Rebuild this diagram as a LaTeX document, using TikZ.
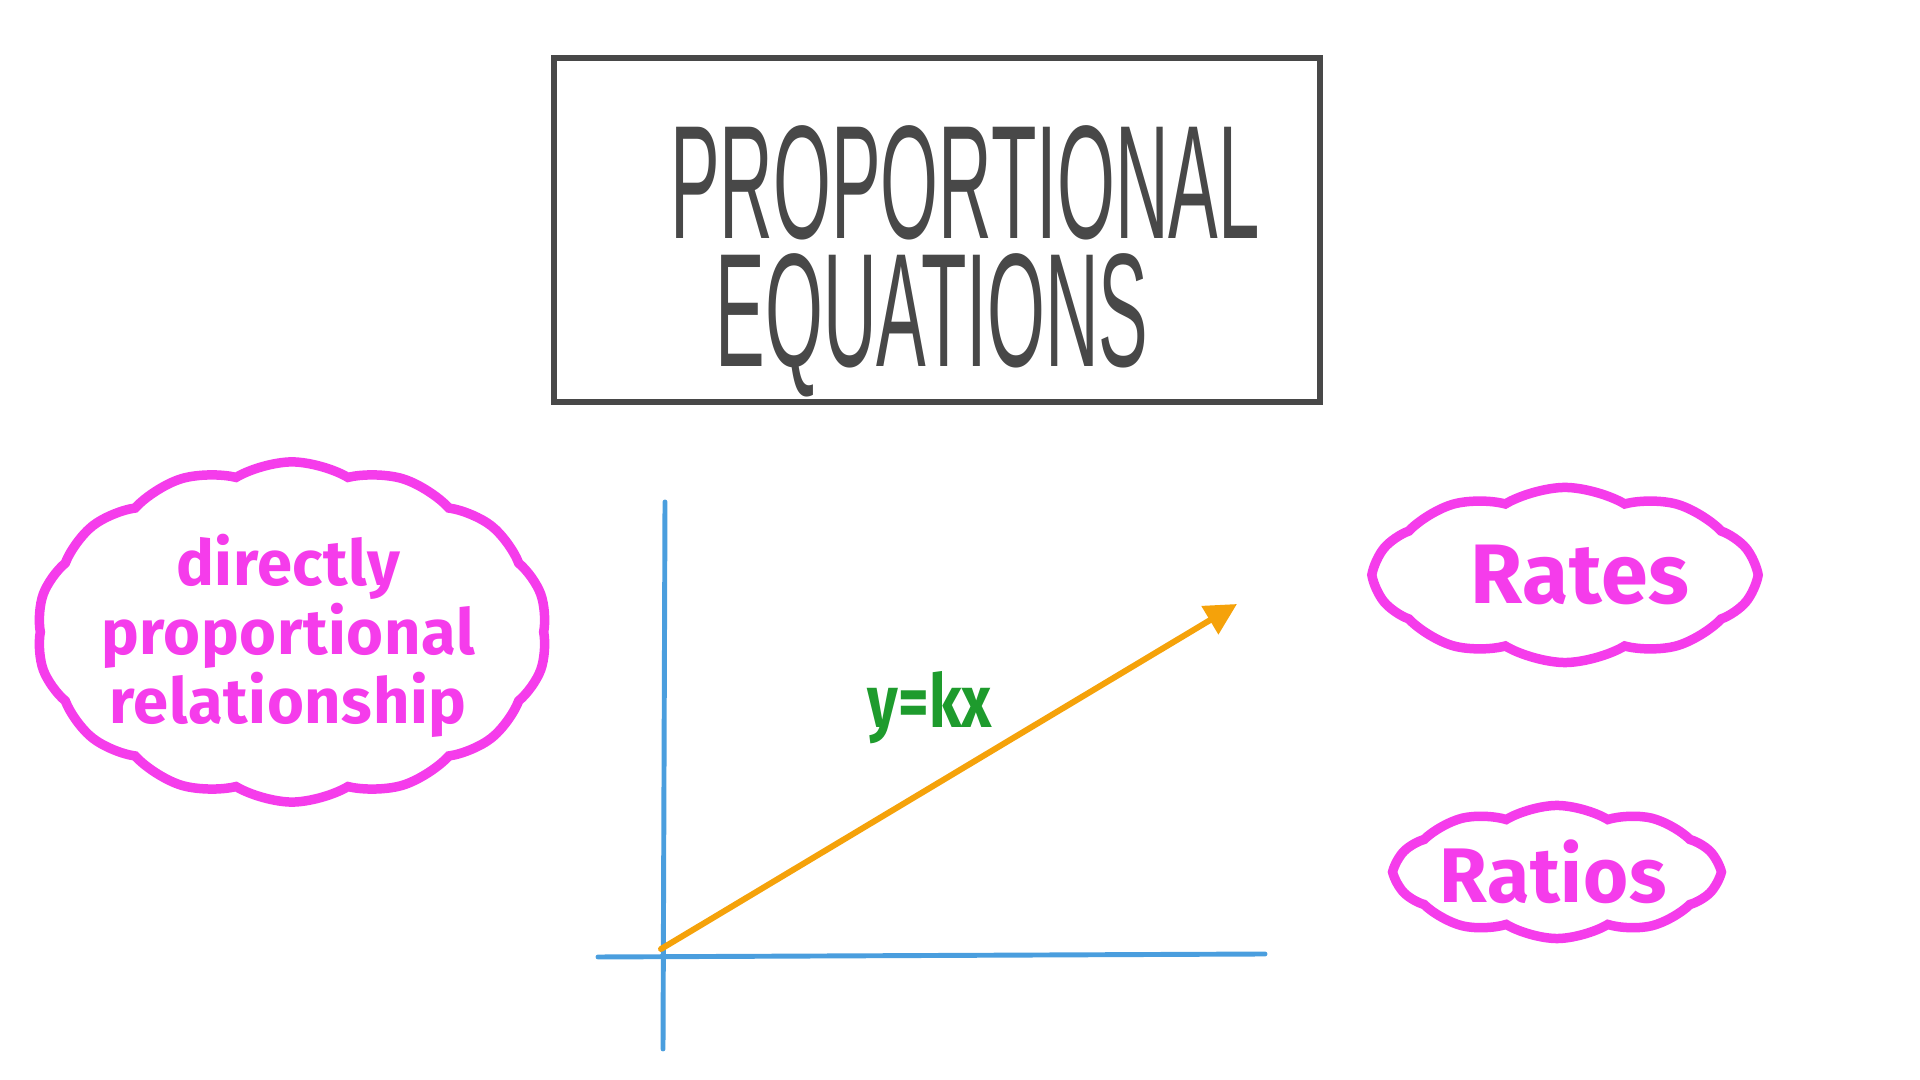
\documentclass[tikz,border=0pt]{standalone}
\usepackage{fontspec}
\usetikzlibrary{shapes.symbols, arrows.meta}
\newfontfamily\titlefont[FakeStretch=0.46]{Liberation Sans}
\newfontfamily\cloudfont[LetterSpace=1]{Fira Sans}
\newfontfamily\eqfont[FakeStretch=0.8]{Fira Sans}
\definecolor{boxgray}{RGB}{72,72,72}
\definecolor{cloudpink}{RGB}{245,60,235}
\definecolor{axisblue}{RGB}{74,158,222}
\definecolor{lineorange}{RGB}{245,162,10}
\definecolor{eqgreen}{RGB}{30,155,45}
\tikzset {
    title box/.style = {draw = boxgray, line width = 1.8pt, minimum width = 7.65cm, minimum height = 3.44cm, inner sep = 0pt},
    title text/.style = {text = boxgray, font = \titlefont\fontsize{46}{46}\selectfont, inner sep = 0pt, text height = 1.16cm, text depth = 0pt},
    puff/.style = {
        cloud, cloud ignores aspect, draw = cloudpink, line width = 2.7pt,
        cloud puffs = #1, cloud puff arc = 62, inner sep = 0pt
    },
    cloud text/.style = {
        text = cloudpink, align = center, inner sep = 0pt,
        font = \cloudfont\bfseries\fontsize{18}{18}\selectfont
    },
    axis/.style = {draw = axisblue, line width = 1.4pt, line cap = round},
    graph line/.style = {draw = lineorange, line width = 1.7pt, line cap = round, -{Triangle[length = 9pt, width = 9pt]}},
    formula/.style = {text = eqgreen, font = \eqfont\bfseries\fontsize{21}{21}\selectfont, inner sep = 0pt}
}
\begin{document}
\begin{tikzpicture}[x = 0.01cm, y = -0.01cm]
    \useasboundingbox (0, 0) rectangle (1920, 1080);
    \node (box) [title box] at (937, 230) {};
    \node (line1) [title text] at (965, 180) {PROPORTIONAL};
    \node (line2) [title text] at (932, 308) {EQUATIONS};
    % graph
    \coordinate (ytop) at (665, 502);
    \coordinate (ybot) at (663, 1049);
    \coordinate (xleft) at (598, 957);
    \coordinate (xright) at (1265, 954);
    \coordinate (o) at (661, 949);
    \coordinate (tip) at (1237, 604);
    \draw [axis] (ytop) -- (ybot);
    \draw [axis] (xleft) -- (xright);
    \draw [graph line] (o) -- (tip);
    \node (eq) [formula] at (930, 708) {y=kx};
    % clouds
    \node (direct) [puff = 14, minimum width = 5.1cm, minimum height = 3.4cm] at (292, 632) {};
    \node (direct text) [cloud text] at (288, 636) {directly\\proportional\\relationship};
    \node (rates) [puff = 10, minimum width = 3.8cm, minimum height = 1.75cm] at (1565, 575) {};
    \node (rates text) [cloud text] at (1580, 575) {\fontsize{24}{24}\selectfont Rates};
    \node (ratios) [puff = 10, minimum width = 3.22cm, minimum height = 1.33cm] at (1557, 872) {};
    \node (ratios text) [cloud text] at (1553, 872) {\fontsize{22}{22}\selectfont Ratios};
\end{tikzpicture}
\end{document}
